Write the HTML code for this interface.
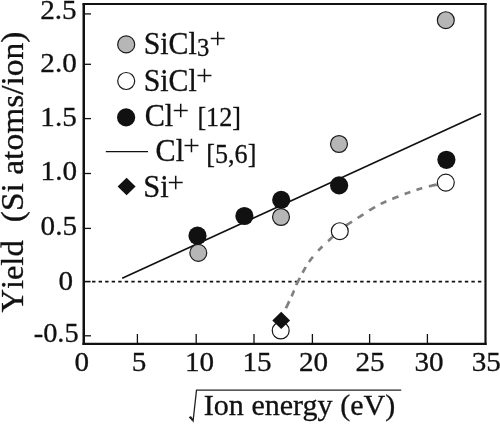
<!DOCTYPE html>
<html>
<head>
<meta charset="utf-8">
<title>Yield vs sqrt ion energy</title>
<style>
html,body{margin:0;padding:0;background:#fff;}
body{width:500px;height:426px;overflow:hidden;}
svg{display:block;}
text{font-family:"Liberation Serif",serif;fill:#111;stroke:#111;stroke-width:0.3px;}
text.p{stroke:none;}
</style>
</head>
<body>
<svg width="500" height="426" viewBox="0 0 500 426">
<rect width="500" height="426" fill="#fff"/>

<line x1="92.06" y1="281.6" x2="484.5" y2="281.6" stroke="#111" stroke-width="1.75" stroke-dasharray="3.4 3.14"/>
<line x1="84" y1="281.6" x2="90.6" y2="281.6" stroke="#111" stroke-width="1.6"/>
<line x1="83.75" y1="3.4" x2="83.75" y2="344.95" stroke="#111" stroke-width="2.5"/>
<line x1="82.5" y1="343.8" x2="486.6" y2="343.8" stroke="#111" stroke-width="2.3"/>
<line x1="485.5" y1="3.4" x2="485.5" y2="344.95" stroke="#111" stroke-width="2.2"/>
<line x1="82.5" y1="4.0" x2="486.6" y2="4.0" stroke="#111" stroke-width="2"/>
<g stroke="#111" stroke-width="1.3">
<line x1="84" y1="13.9" x2="91" y2="13.9"/>
<line x1="84" y1="64.3" x2="91" y2="64.3"/>
<line x1="84" y1="118.6" x2="91" y2="118.6"/>
<line x1="84" y1="173.5" x2="91" y2="173.5"/>
<line x1="84" y1="228.4" x2="91" y2="228.4"/>
<line x1="84" y1="335.8" x2="91" y2="335.8"/>
<line x1="137.4" y1="334" x2="137.4" y2="343"/>
<line x1="196.2" y1="334" x2="196.2" y2="343"/>
<line x1="254" y1="334" x2="254" y2="343"/>
<line x1="312.4" y1="334" x2="312.4" y2="343"/>
<line x1="369.6" y1="334" x2="369.6" y2="343"/>
<line x1="427.4" y1="334" x2="427.4" y2="343"/>
</g>
<text transform="translate(76.6,18.8) scale(1.08,1)" font-size="27" text-anchor="end">2.5</text>
<text transform="translate(76.8,71.5) scale(1.08,1)" font-size="27" text-anchor="end">2.0</text>
<text transform="translate(76.8,125.6) scale(1.08,1)" font-size="27" text-anchor="end">1.5</text>
<text transform="translate(77.0,180.1) scale(1.08,1)" font-size="27" text-anchor="end">1.0</text>
<text transform="translate(77.0,235.3) scale(1.08,1)" font-size="27" text-anchor="end">0.5</text>
<text transform="translate(73,290.2) scale(1.08,1)" font-size="27" text-anchor="end">0</text>
<text transform="translate(78.7,341.5) scale(1.053,1)" font-size="27" text-anchor="end">-0.5</text>
<text transform="translate(81.8,371.2) scale(1.08,1)" font-size="27" text-anchor="middle">0</text>
<text transform="translate(139,371.2) scale(1.08,1)" font-size="27" text-anchor="middle">5</text>
<text transform="translate(199.5,371.2) scale(1.08,1)" font-size="27" text-anchor="middle">10</text>
<text transform="translate(257,371.2) scale(1.08,1)" font-size="27" text-anchor="middle">15</text>
<text transform="translate(313.5,371.2) scale(1.08,1)" font-size="27" text-anchor="middle">20</text>
<text transform="translate(370,371.2) scale(1.08,1)" font-size="27" text-anchor="middle">25</text>
<text transform="translate(429,371.2) scale(1.08,1)" font-size="27" text-anchor="middle">30</text>
<text transform="translate(486.3,371.2) scale(1.08,1)" font-size="27" text-anchor="middle">35</text>
<text transform="translate(23.0,312.6) rotate(-90) scale(1.05,1)" font-size="31" style="font-kerning:none">Yield</text>
<text transform="translate(23.0,222.28) rotate(-90) scale(1.0816,1)" font-size="31" style="font-kerning:none">(Si atoms/ion)</text>
<text transform="translate(203.8,415.3) scale(1.016,1)" font-size="29.6" text-anchor="start">Ion energy (eV)</text>
<polyline points="189.2,417.9 190.3,417.0 193.1,420.9 196.5,390.2 401.2,390.2" fill="none" stroke="#222" stroke-width="1.3" stroke-linejoin="miter"/>
<line x1="190.4" y1="417.1" x2="192.9" y2="420.4" stroke="#222" stroke-width="2.1"/>
<line x1="122.2" y1="278.3" x2="481" y2="113.7" stroke="#111" stroke-width="1.7"/>
<path d="M286.0,308.0 L286.1,307.9 L286.1,307.8 L286.2,307.7 L286.2,307.6 L286.3,307.5 L286.3,307.3 L286.4,307.2 L286.4,307.1 L286.5,307.0 L286.6,306.8 L286.6,306.7 L286.7,306.6 L286.8,306.4 L286.8,306.3 L286.9,306.1 L287.0,306.0 L287.0,305.8 L287.1,305.7 L287.2,305.5 L287.3,305.4 L287.3,305.2 L287.4,305.1 L287.5,304.9 L287.6,304.7 L287.7,304.6 L287.7,304.4 L287.8,304.2 L287.9,304.1 L288.0,303.9 L288.1,303.7 L288.1,303.6 L288.2,303.4 L288.3,303.2 L288.4,303.1 L288.4,302.9 L288.5,302.8 L288.6,302.6 L288.7,302.4 L288.8,302.3 L288.8,302.1 L288.9,302.0 L289.0,301.8 L289.1,301.7 L289.1,301.5 L289.2,301.4 M291.6,296.4 L291.7,296.2 L291.8,296.0 L291.9,295.7 L292.0,295.5 L292.1,295.3 L292.2,295.0 L292.3,294.8 L292.4,294.5 L292.5,294.2 L292.6,294.0 L292.8,293.7 L292.9,293.4 L293.0,293.1 L293.1,292.9 L293.2,292.6 L293.3,292.3 L293.5,292.0 L293.6,291.7 L293.7,291.4 L293.8,291.1 L293.9,290.8 L294.1,290.5 M296.3,285.1 L296.4,284.7 L296.6,284.4 L296.7,284.1 L296.9,283.8 L297.0,283.5 L297.1,283.2 L297.3,282.9 L297.4,282.6 L297.6,282.3 L297.7,281.9 L297.9,281.6 L298.0,281.3 L298.2,281.0 L298.4,280.7 L298.5,280.4 L298.7,280.0 L298.8,279.7 L299.0,279.4 L299.2,279.1 L299.3,278.8 L299.5,278.4 L299.7,278.1 L299.8,277.8 M302.5,272.8 L302.7,272.5 L302.8,272.2 L303.0,271.9 L303.2,271.6 L303.3,271.3 L303.5,271.0 L303.7,270.7 L303.8,270.4 L304.0,270.2 L304.1,269.9 L304.3,269.6 L304.4,269.3 L304.6,269.1 L304.7,268.8 L304.9,268.5 L305.0,268.3 L305.2,268.0 L305.3,267.8 L305.5,267.5 L305.6,267.3 L305.7,267.0 M309.0,261.9 L309.2,261.6 L309.4,261.3 L309.6,261.1 L309.8,260.8 L310.0,260.5 L310.2,260.2 L310.4,259.9 L310.7,259.6 L310.9,259.3 L311.1,259.0 L311.4,258.7 L311.6,258.4 L311.9,258.1 L312.2,257.8 L312.4,257.4 L312.7,257.1 L312.9,256.8 M318.3,250.7 L318.6,250.3 L318.9,250.0 L319.2,249.7 L319.4,249.4 L319.7,249.1 L320.0,248.8 L320.3,248.6 L320.5,248.3 L320.8,248.0 L321.1,247.7 L321.3,247.5 L321.6,247.2 L321.8,246.9 L322.1,246.7 L322.4,246.4 M328.0,241.1 L328.3,240.9 L328.5,240.7 L328.8,240.4 L329.0,240.2 L329.3,240.0 L329.5,239.8 L329.8,239.5 L330.0,239.3 L330.3,239.1 L330.5,238.9 L330.8,238.6 L331.0,238.4 L331.2,238.2 L331.5,237.9 L331.7,237.7 L331.9,237.5 L332.2,237.3 L332.4,237.1 L332.6,236.8 L332.8,236.6 M344.3,226.7 L344.6,226.5 L344.9,226.3 L345.2,226.0 L345.5,225.8 L345.8,225.6 L346.1,225.4 L346.4,225.2 L346.7,225.0 L347.1,224.8 L347.4,224.6 L347.7,224.4 L348.0,224.2 L348.3,224.0 L348.6,223.8 L348.9,223.6 L349.2,223.4 L349.6,223.2 L349.9,223.0 L350.2,222.8 L350.5,222.6 L350.8,222.4 L351.1,222.2 L351.4,222.0 L351.7,221.8 L352.0,221.6 M357.6,218.0 L357.9,217.8 L358.2,217.6 L358.6,217.4 L358.9,217.2 L359.2,217.0 L359.5,216.8 L359.8,216.7 L360.1,216.5 L360.4,216.3 L360.7,216.1 L361.0,215.9 L361.3,215.7 L361.6,215.5 L361.8,215.4 L362.1,215.2 L362.4,215.0 L362.7,214.8 L363.0,214.7 L363.2,214.5 L363.5,214.3 M369.2,210.5 L369.3,210.4 L369.5,210.3 L369.7,210.2 L369.9,210.0 L370.1,209.9 L370.3,209.8 L370.5,209.7 L370.7,209.5 L370.9,209.4 L371.2,209.3 L371.4,209.1 L371.6,209.0 L371.9,208.8 L372.1,208.7 L372.3,208.6 L372.6,208.4 L372.9,208.3 L373.1,208.1 L373.4,208.0 L373.7,207.8 L373.9,207.7 L374.2,207.5 L374.5,207.3 L374.8,207.2 L375.1,207.0 M380.8,204.0 L381.1,203.8 L381.4,203.7 L381.7,203.5 L382.0,203.4 L382.3,203.2 L382.6,203.1 L382.9,202.9 L383.2,202.8 L383.5,202.6 L383.8,202.5 L384.1,202.4 L384.4,202.2 L384.7,202.1 L385.0,202.0 L385.3,201.8 L385.6,201.7 L385.8,201.6 L386.1,201.4 L386.4,201.3 M392.3,198.9 L392.6,198.8 L392.9,198.6 L393.2,198.5 L393.5,198.4 L393.7,198.3 L394.0,198.2 L394.3,198.1 L394.6,198.0 L394.9,197.8 L395.2,197.7 L395.5,197.6 L395.8,197.5 L396.1,197.4 L396.4,197.2 L396.7,197.1 L397.0,197.0 L397.3,196.9 L397.5,196.8 L397.8,196.7 L398.1,196.6 L398.4,196.4 M404.6,194.1 L404.9,194.0 L405.2,193.9 L405.4,193.7 L405.7,193.6 L406.0,193.5 L406.3,193.4 L406.6,193.3 L406.9,193.2 L407.2,193.1 L407.5,193.0 L407.8,192.9 L408.1,192.8 L408.4,192.7 L408.7,192.6 L408.9,192.5 L409.2,192.4 L409.5,192.3 L409.8,192.2 L410.1,192.1 L410.4,192.0 M416.5,189.9 L416.8,189.8 L417.1,189.7 L417.4,189.6 L417.7,189.5 L418.0,189.4 L418.3,189.3 L418.6,189.2 L418.9,189.1 L419.2,189.0 L419.5,188.9 L419.9,188.8 L420.2,188.7 L420.5,188.6 L420.9,188.5 L421.2,188.4 L421.5,188.3 L421.9,188.2 L422.2,188.1 M428.9,186.4 L429.2,186.3 L429.5,186.2 L429.8,186.1 L430.1,186.1 L430.4,186.0 L430.7,185.9 L430.9,185.8 L431.2,185.8 L431.4,185.7 L431.7,185.7 L431.9,185.6 L432.1,185.5 L432.3,185.5 L432.5,185.4 L432.7,185.4 L432.9,185.4 L433.1,185.3 L433.3,185.3 L433.5,185.2 L433.6,185.2 L433.8,185.2 L434.0,185.1 L434.1,185.1 L434.3,185.1 L434.4,185.1 L434.5,185.0 L434.7,185.0 L434.8,185.0 L434.9,185.0 L435.0,184.9 L435.2,184.9 L435.3,184.9 L435.4,184.9 L435.5,184.9 L435.6,184.9 L435.7,184.9 L435.8,184.8 L435.9,184.8 L435.9,184.8 L436.0,184.8 L436.1,184.8 L436.2,184.8 L436.3,184.8 L436.3,184.8 L436.4,184.8 L436.5,184.8 L436.5,184.7 L436.6,184.7 L436.7,184.7 L436.7,184.7 L436.8,184.7" fill="none" stroke="#808080" stroke-width="2.65"/>
<g fill="#111">
<circle cx="197.5" cy="235.7" r="9.1"/>
<circle cx="244.4" cy="216.0" r="9.1"/>
<circle cx="281.2" cy="199.9" r="9.1"/>
<circle cx="339.1" cy="185.4" r="9.1"/>
<circle cx="446.4" cy="159.8" r="9.1"/>
</g>
<g fill="#b6b6b6" stroke="#1a1a1a" stroke-width="1.2">
<circle cx="198.3" cy="252.9" r="8.45"/>
<circle cx="281.0" cy="217.0" r="8.45"/>
<circle cx="339" cy="144" r="8.45"/>
<circle cx="445.8" cy="20.2" r="8.45"/>
</g>
<g fill="#fff" stroke="#1a1a1a" stroke-width="1.2">
<circle cx="280.7" cy="330.5" r="8.45"/>
<circle cx="339.8" cy="231.2" r="8.45"/>
<circle cx="445.8" cy="182.6" r="8.45"/>
</g>
<polygon points="281.2,311.8 290.1,320.4 281.2,329 272.3,320.4" fill="#111"/>
<circle cx="126.2" cy="44.4" r="8.5" fill="#b6b6b6" stroke="#1a1a1a" stroke-width="1.2"/>
<circle cx="126.2" cy="81" r="8.5" fill="#fff" stroke="#1a1a1a" stroke-width="1.2"/>
<circle cx="126.1" cy="117.4" r="9.1" fill="#111"/>
<line x1="105.8" y1="151.6" x2="148" y2="151.6" stroke="#111" stroke-width="1.4"/>
<polygon points="126.6,177.8 135.6,186.5 126.6,195.2 117.6,186.5" fill="#111"/>
<text transform="translate(143.7,54.1) scale(0.958,1)" font-size="31.2" text-anchor="start">SiCl</text>
<text transform="translate(197.0,56.2) scale(1.0,1)" font-size="24.6" text-anchor="start">3</text>
<text transform="translate(209.3,47.9) scale(1.0,1)" font-size="30" text-anchor="start" class="p">+</text>
<text transform="translate(143.7,90.8) scale(0.958,1)" font-size="31.2" text-anchor="start">SiCl</text>
<text transform="translate(196.0,84.9) scale(1.0,1)" font-size="30" text-anchor="start" class="p">+</text>
<text transform="translate(144.7,126.1) scale(0.975,1)" font-size="31" text-anchor="start">Cl</text>
<text transform="translate(172.2,119.5) scale(1.0,1)" font-size="30" text-anchor="start" class="p">+</text>
<text transform="translate(197.4,126.0) scale(0.95,1)" font-size="27.5" text-anchor="start">[12]</text>
<text transform="translate(155.5,160.7) scale(0.975,1)" font-size="31" text-anchor="start">Cl</text>
<text transform="translate(182.9,155.0) scale(1.0,1)" font-size="30" text-anchor="start" class="p">+</text>
<text transform="translate(206.3,162.6) scale(0.95,1)" font-size="27.5" text-anchor="start">[5,6]</text>
<text transform="translate(143.3,197.3) scale(0.985,1)" font-size="31" text-anchor="start">Si</text>
<text transform="translate(167.2,191.7) scale(1.0,1)" font-size="30" text-anchor="start" class="p">+</text>
</svg>
</body>
</html>
